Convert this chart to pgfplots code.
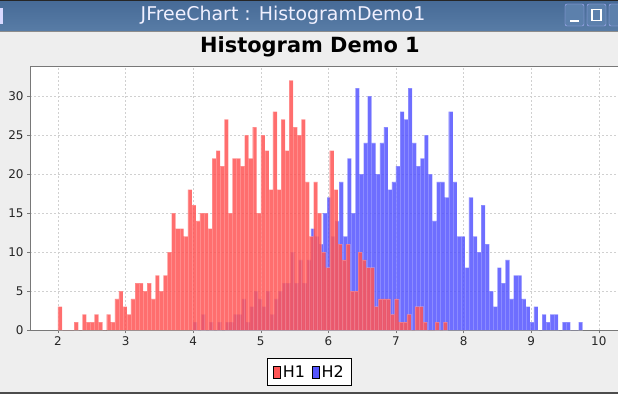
\documentclass[border=0pt]{standalone}
\usepackage{pgfplots}
\pgfplotsset{compat=1.18}
\usepackage{fontspec}
\setmainfont{DejaVu Sans}
\definecolor{panel}{RGB}{238,238,238}
\definecolor{tbtop}{RGB}{70,106,150}
\definecolor{tbbot}{RGB}{88,124,166}
\definecolor{btnfill}{RGB}{92,128,172}
\definecolor{hred}{RGB}{255,85,85}
\definecolor{hblue}{RGB}{85,85,255}
\definecolor{gridc}{RGB}{208,208,208}
\definecolor{axc}{RGB}{120,120,120}
\begin{document}
\begin{tikzpicture}[x=1bp,y=1bp]
\useasboundingbox (0,0) rectangle (618,394);
\clip (0,0) rectangle (618,394);
\fill[panel] (0,0) rectangle (618,394);
% window title bar
\shade[top color=tbtop, bottom color=tbbot] (0,363) rectangle (618,394);
\fill[black!85] (0,393) rectangle (618,394);
\draw[black!45, line width=0.8bp] (0,362.6) -- (618,362.6);
\fill[white!85!blue] (0,370) rectangle (2.5,386);
\node[text=white!94!blue, font=\fontsize{19}{22}\selectfont] at (283,378.5) {JFreeChart : HistogramDemo1};
\draw[white!70!blue, fill=btnfill, rounded corners=2bp] (565,368) rectangle (584,390);
\draw[white, line width=1.6bp] (570,373) -- (579,373);
\draw[white!70!blue, fill=btnfill, rounded corners=2bp] (587,368) rectangle (606,390);
\draw[white, line width=1.4bp] (592,373.5) rectangle (601,384.5);
\draw[white!70!blue, fill=btnfill, rounded corners=2bp] (609,368) rectangle (628,390);
% chart title
\node[font=\bfseries\fontsize{21}{25}\selectfont] at (310,347) {Histogram Demo 1};
\begin{axis}[
  at={(30bp,64bp)}, anchor=south west,
  scale only axis, width=595.8bp, height=264bp,
  xmin=1.586, xmax=10.4, ymin=0, ymax=33.85,
  axis background/.style={fill=white},
  xtick={2,...,10}, ytick={0,5,...,30},
  grid=major,
  major grid style={gridc, dash pattern=on 2bp off 2bp, line width=0.5bp},
  axis line style={draw=axc, line width=0.6bp},
  tick align=outside, major tick length=3bp,
  tick style={axc, line width=0.5bp},
  xtick pos=bottom, ytick pos=left,
  ticklabel style={font=\fontsize{12}{14}\selectfont, text=black!85},
  /pgf/number format/assume math mode=true,
  legend style={at={(0.469,-0.1595)}, anchor=center, draw=black, line width=0.8bp,
    fill=white, font=\fontsize{16}{19}\selectfont, inner xsep=6bp, inner ysep=5bp,
    /tikz/every even column/.append style={column sep=5bp}},
  legend columns=2,
  legend image code/.code={\fill[#1] (0bp,-6bp) rectangle (7bp,6bp);},
]
\addplot[ybar interval, fill=hblue, fill opacity=0.85, draw=white, draw opacity=0.2, line width=0.3bp, forget plot] coordinates {
(4.00,1) (4.06,0) (4.12,2) (4.18,0) (4.24,1) (4.30,0) (4.36,1) (4.42,0) (4.48,1) (4.54,1)
(4.60,2) (4.66,2) (4.72,4) (4.78,1) (4.84,3) (4.90,5) (4.96,4) (5.02,3) (5.08,5) (5.14,2)
(5.20,4) (5.26,5) (5.32,6) (5.38,6) (5.44,10) (5.50,6) (5.56,9) (5.62,6) (5.68,9) (5.74,13)
(5.80,12) (5.86,11) (5.92,15) (5.98,17) (6.04,12) (6.10,14) (6.16,19) (6.22,12) (6.28,22) (6.34,15)
(6.40,31) (6.46,20) (6.52,24) (6.58,30) (6.64,24) (6.70,20) (6.76,24) (6.82,26) (6.88,18) (6.94,19)
(7.00,21) (7.06,28) (7.12,27) (7.18,31) (7.24,24) (7.30,21) (7.36,22) (7.42,25) (7.48,20) (7.54,14)
(7.60,19) (7.66,19) (7.72,17) (7.78,28) (7.84,19) (7.90,12) (7.96,12) (8.02,8) (8.08,17) (8.14,12)
(8.20,10) (8.26,16) (8.32,11) (8.38,5) (8.44,3) (8.50,8) (8.56,6) (8.62,9) (8.68,4) (8.74,7)
(8.80,7) (8.86,4) (8.92,3) (8.98,1) (9.04,3) (9.10,0) (9.16,2) (9.22,1) (9.28,2) (9.34,2)
(9.40,0) (9.46,1) (9.52,1) (9.58,0) (9.64,0) (9.70,1) (9.76,0)
};
\addplot[ybar interval, fill=hred, fill opacity=0.85, draw=white, draw opacity=0.2, line width=0.3bp, forget plot] coordinates {
(2.00,3) (2.06,0) (2.12,0) (2.18,0) (2.24,1) (2.30,0) (2.36,2) (2.42,1) (2.48,1) (2.54,2)
(2.60,1) (2.66,0) (2.72,2) (2.78,1) (2.84,4) (2.90,5) (2.96,3) (3.02,2) (3.08,4) (3.14,6)
(3.20,6) (3.26,5) (3.32,6) (3.38,4) (3.44,7) (3.50,5) (3.56,7) (3.62,10) (3.68,15) (3.74,13)
(3.80,13) (3.86,12) (3.92,18) (3.98,16) (4.04,14) (4.10,15) (4.16,15) (4.22,13) (4.28,22) (4.34,23)
(4.40,21) (4.46,27) (4.52,15) (4.58,22) (4.64,22) (4.70,21) (4.76,25) (4.82,22) (4.88,26) (4.94,15)
(5.00,25) (5.06,23) (5.12,18) (5.18,28) (5.24,18) (5.30,27) (5.36,23) (5.42,32) (5.48,26) (5.54,25)
(5.60,27) (5.66,19) (5.72,12) (5.78,19) (5.84,15) (5.90,10) (5.96,8) (6.02,23) (6.08,18) (6.14,11)
(6.20,9) (6.26,11) (6.32,5) (6.38,5) (6.44,10) (6.50,9) (6.56,8) (6.62,8) (6.68,3) (6.74,4)
(6.80,4) (6.86,4) (6.92,2) (6.98,4) (7.04,1) (7.10,1) (7.16,2) (7.22,0) (7.28,3) (7.34,3)
(7.40,1) (7.46,0) (7.52,0) (7.58,1) (7.64,0) (7.70,1) (7.76,0)
};
\addlegendimage{fill=hred}
\addlegendentry{H1}
\addlegendimage{fill=hblue}
\addlegendentry{H2}
\end{axis}
\fill[black!70] (0,0) rectangle (618,2);
\end{tikzpicture}
\end{document}
